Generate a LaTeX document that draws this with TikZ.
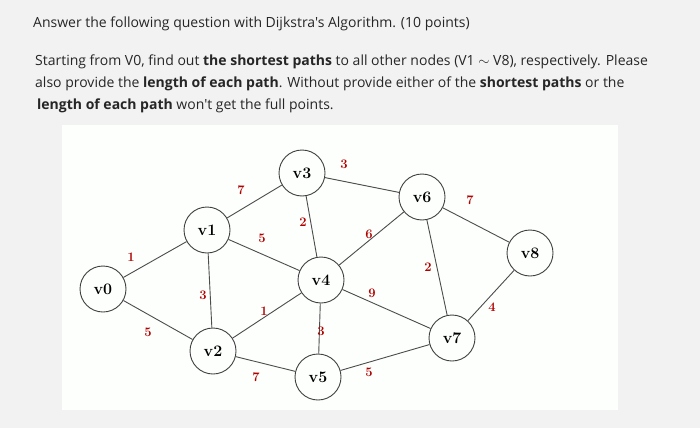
\documentclass[tikz,border=0pt]{standalone}
\usepackage{fontspec}
\newfontfamily\osans{Open Sans}
\begin{document}
\begin{tikzpicture}[x=1pt,y=-1pt,
  vtx/.style={circle,draw=black!75,line width=0.9pt,minimum size=46pt,inner sep=0pt,font=\bfseries\fontsize{16}{16}\selectfont,fill=white,fill opacity=0.25,text opacity=1},
  edge/.style={draw=black!70,line width=0.9pt},
  wt/.style={text=red!70!black,font=\bfseries\fontsize{13}{13}\selectfont,inner sep=0pt},
  txt/.style={anchor=west,inner sep=0pt,font=\osans\fontsize{14}{16}\selectfont,text=black!85}]
\fill[black!5] (0,0) rectangle (700,428);
\useasboundingbox (0,0) rectangle (700,428);
\fill[white!85!green!8] (62,125) rectangle (618,410);
\node[txt] (t1) at (33,24) {Answer the following question with Dijkstra's Algorithm. (10 points)};
\node[txt] (t2) at (35,62) {Starting from V0, find out \textbf{the shortest paths} to all other nodes (V1 $\sim$ V8), respectively. Please};
\node[txt] (t3) at (35,84) {also provide the \textbf{length of each path}. Without provide either of the \textbf{shortest paths} or the};
\node[txt] (t4) at (37,106) {\textbf{length of each path} won't get the full points.};
\node[vtx] (v0) at (103,289) {v0};
\node[vtx] (v1) at (207,230) {v1};
\node[vtx] (v2) at (213,351) {v2};
\node[vtx] (v3) at (302,173) {v3};
\node[vtx] (v4) at (321,280) {v4};
\node[vtx] (v5) at (318,377) {v5};
\node[vtx] (v6) at (422,197) {v6};
\node[vtx] (v7) at (452,338) {v7};
\node[vtx] (v8) at (530,253) {v8};
\foreach \a/\b in {v0/v1,v0/v2,v1/v2,v1/v3,v1/v4,v2/v4,v2/v5,v3/v4,v3/v6,v4/v5,v4/v6,v4/v7,v6/v7,v6/v8,v7/v8,v5/v7}
  \draw[edge] (\a) -- (\b);
\node[wt] (w01) at (131,257) {1};
\node[wt] (w02) at (148,332) {5};
\node[wt] (w12) at (203,295) {3};
\node[wt] (w13) at (241,190) {7};
\node[wt] (w14) at (262,238) {5};
\node[wt] (w34) at (303,222) {2};
\node[wt] (w24) at (264,311) {1};
\node[wt] (w25) at (256,377) {7};
\node[wt] (w45) at (321,331) {3};
\node[wt] (w36) at (344,164) {3};
\node[wt] (w46) at (369,234) {6};
\node[wt] (w47) at (372,293) {9};
\node[wt] (w67) at (428,267) {2};
\node[wt] (w68) at (470,200) {7};
\node[wt] (w78) at (492,307) {4};
\node[wt] (w57) at (369,372) {5};
\end{tikzpicture}
\end{document}
